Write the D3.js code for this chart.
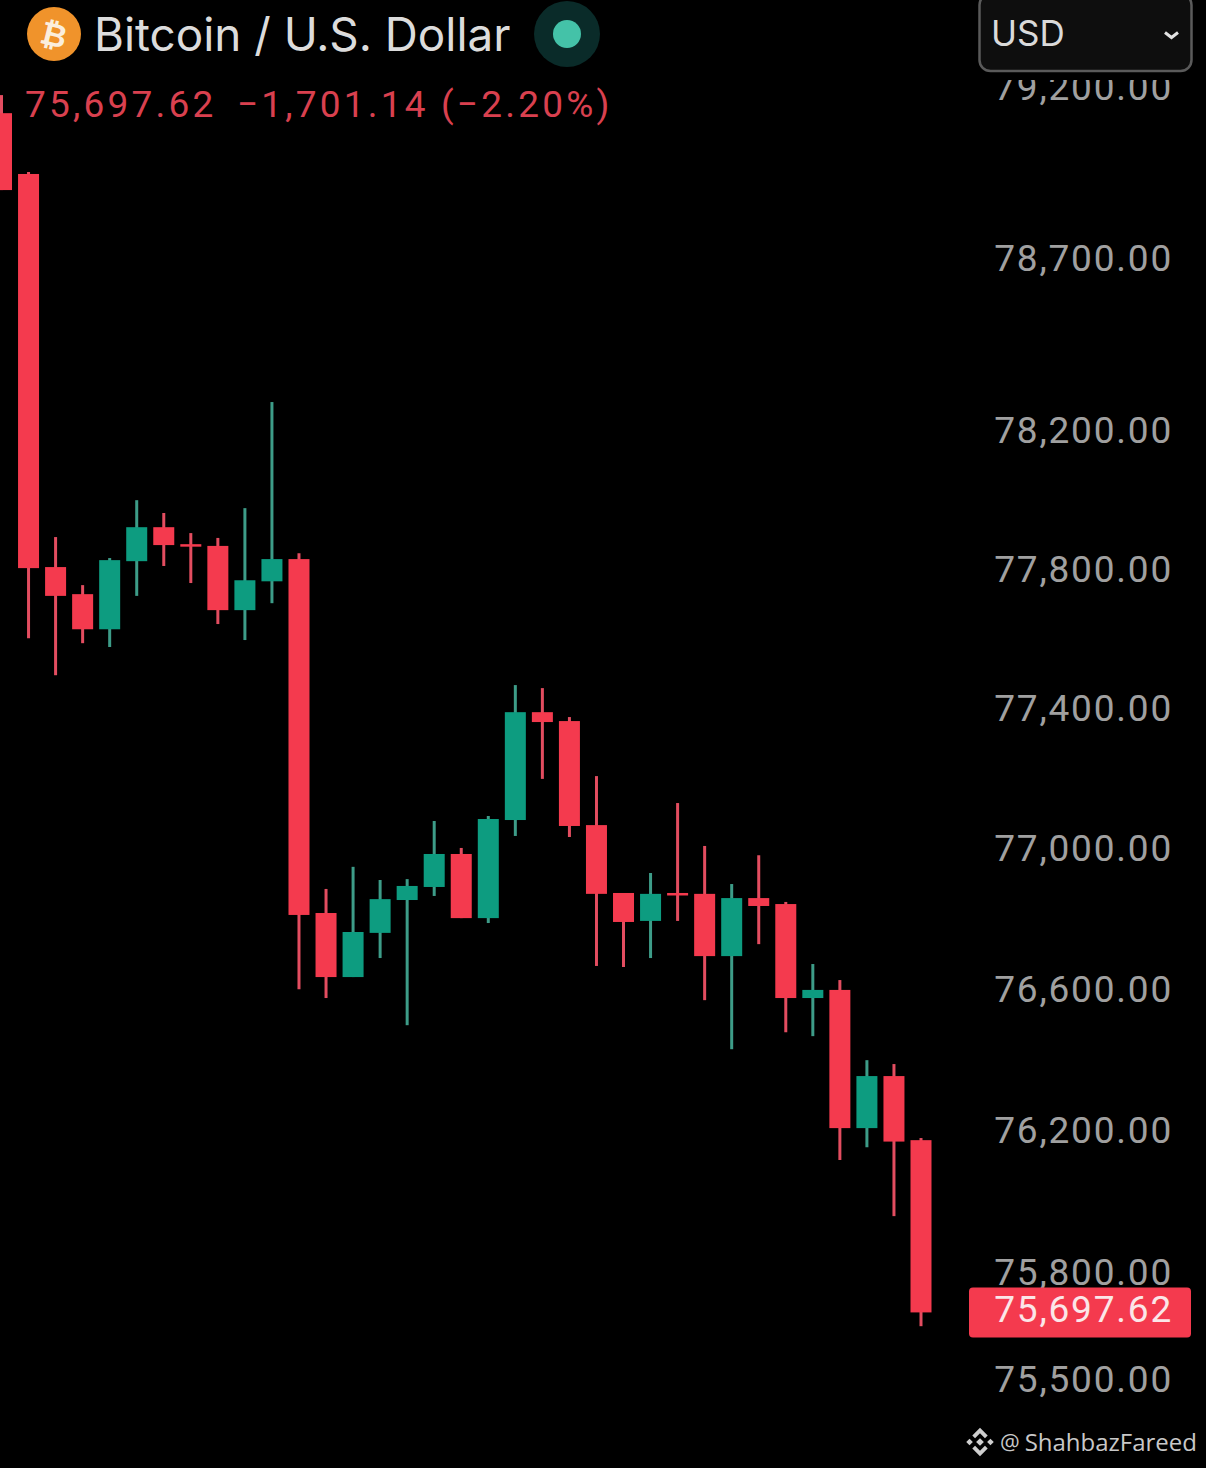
<!DOCTYPE html>
<html>
<head>
<meta charset="utf-8">
<title>Bitcoin / U.S. Dollar</title>
<script src="https://cdn.jsdelivr.net/npm/d3@7"></script>
<style>
  html, body { margin: 0; padding: 0; background: #000; }
  svg { display: block; }
  text { font-family: Inter, "Noto Sans", sans-serif; }
</style>
</head>
<body>
<script>
  // values
  const opens = [79135, 78957, 77816, 77738, 77637, 77833, 77931, 77882, 77877, 77692, 77775, 77839,
    76825.5, 76643.5, 76769, 76862.5, 76899.6, 76993.6, 76811, 77090.5, 77399, 77373.5, 77076, 76882.5,
    76803, 76882.5, 76880, 76703, 76868, 76851, 76584, 76607, 76216, 76363, 76182];
  const closes = [78910, 77813, 77733, 77637, 77836, 77931, 77879.4, 77876.6, 77692, 77778, 77839, 76820,
    76643.5, 76771.5, 76865, 76902.5, 76993.6, 76811, 77093.4, 77399, 77370.7, 77073.5, 76880, 76800,
    76880, 76877, 76703, 76868, 76845.5, 76584, 76607, 76216, 76363, 76178, 75697.62];
  const highs = [79188, 78963, 77902.5, 77764, 77842, 78009, 77972, 77914, 77900, 77986, 78293, 77856,
    76894, 76957, 76919.5, 76922, 77087.7, 77010.8, 77102, 77476.7, 77468, 77385, 77216, 76882.5,
    76939.5, 77139, 77016.5, 76908, 76990, 76857, 76680.5, 76635, 76408, 76397, 76188];
  const lows = [78910, 77611.5, 77505, 77597, 77586, 77733, 77819, 77770, 77652, 77606, 77712, 76609,
    76584, 76643.5, 76697.5, 76507, 76874, 76811, 76797, 77045, 77208, 77042, 76675, 76672,
    76697.5, 76803, 76578, 76439, 76737, 76487, 76476, 76126, 76162, 75968, 75659];
  const priceTicks = [79200, 78700, 78200, 77800, 77400, 77000, 76600, 76200, 75800, 75500];

  const title = 'Bitcoin / U.S. Dollar';
  const lastPrice = 75697.62;
  const changeText = '\u22121,701.14';
  const changePctText = '(\u22122.20%)';
  const currency = 'USD';
  const watermark = 'ShahbazFareed';

  const w = 1206;
  const h = 1468;
  const red = '#f43a4e';
  const green = '#0d9c80';
  const candleWidth = 21;
  const digitFont = 'Roboto, "Liberation Sans", sans-serif';

  const candles = opens.map((d, i) => ({ i: i, o: d, c: closes[i], h: highs[i], l: lows[i] }));

  const xScale = d3.scaleLinear().domain([0, candles.length - 1]).range([1.5, 921]);
  const yScale = d3.scaleLog().domain([75500, 79200]).range([1383, 91]);

  const svg = d3.select('body').append('svg')
    .attr('width', w)
    .attr('height', h)
    .style('background', '#000');

  // axis labels go under the header box, 79,200 gets cut by it
  svg.append('clipPath').attr('id', 'axis-clip')
    .append('rect').attr('x', 940).attr('y', 80).attr('width', 266).attr('height', h);

  const yAxis = d3.axisRight(yScale)
    .tickValues(priceTicks)
    .tickSize(0)
    .tickFormat(d3.format(',.2f'));

  const axisG = svg.append('g')
    .attr('id', 'y-axis')
    .attr('clip-path', 'url(#axis-clip)')
    .call(yAxis);
  axisG.select('.domain').remove();
  axisG.selectAll('text')
    .attr('x', 1173)
    .attr('dy', '0.32em')
    .attr('transform', 'translate(0,-3)')
    .attr('text-anchor', 'end')
    .attr('fill', '#a0a0a0')
    .style('font-family', digitFont)
    .style('font-size', '37px')
    .style('letter-spacing', '1.8px');

  // candles
  const candleG = svg.append('g').attr('id', 'candles')
    .selectAll('g')
    .data(candles)
    .enter()
    .append('g');

  candleG.append('line')
    .attr('x1', d => xScale(d.i))
    .attr('x2', d => xScale(d.i))
    .attr('y1', d => yScale(d.h))
    .attr('y2', d => yScale(d.l))
    .attr('stroke', d => d.c >= d.o ? '#3d9c88' : '#e34d60')
    .attr('stroke-width', 3);

  candleG.append('rect')
    .attr('x', d => xScale(d.i) - candleWidth / 2)
    .attr('y', d => yScale(Math.max(d.o, d.c)))
    .attr('width', candleWidth)
    .attr('height', d => Math.max(yScale(Math.min(d.o, d.c)) - yScale(Math.max(d.o, d.c)), 2.5))
    .attr('fill', d => d.c >= d.o ? green : red);

  // last price badge
  const badgeY = yScale(lastPrice);
  svg.append('rect')
    .attr('x', 969).attr('y', badgeY - 25)
    .attr('width', 222).attr('height', 50)
    .attr('rx', 4)
    .attr('fill', '#f43a4e');
  svg.append('text')
    .attr('x', 1173).attr('y', badgeY).attr('dy', '0.27em')
    .attr('text-anchor', 'end')
    .attr('fill', '#fbe6e8')
    .style('font-family', digitFont)
    .style('font-size', '37px')
    .style('letter-spacing', '1.8px')
    .text(d3.format(',.2f')(lastPrice));

  // title row
  svg.append('circle').attr('cx', 54).attr('cy', 34).attr('r', 27).attr('fill', '#f0932b');
  svg.append('text')
    .attr('x', 54).attr('y', 46)
    .attr('text-anchor', 'middle')
    .attr('transform', 'rotate(14 54 34)')
    .attr('fill', '#fbeedd')
    .style('font-family', '"DejaVu Sans", sans-serif')
    .style('font-weight', 700)
    .style('font-size', '32px')
    .text('\u20bf');
  svg.append('text')
    .attr('x', 94).attr('y', 51)
    .attr('fill', '#dcdcdc')
    .style('font-size', '45.8px')
    .text(title);
  svg.append('circle').attr('cx', 567).attr('cy', 34).attr('r', 33).attr('fill', '#0a2b29');
  svg.append('circle').attr('cx', 567).attr('cy', 34).attr('r', 14).attr('fill', '#44c2a8');

  // price row
  const headerRow = [
    { x: 25, t: d3.format(',.2f')(lastPrice) },
    { x: 237, t: changeText },
    { x: 441, t: changePctText }
  ];
  svg.selectAll('.header-value')
    .data(headerRow)
    .enter()
    .append('text')
    .attr('class', 'header-value')
    .attr('x', d => d.x)
    .attr('y', 117)
    .attr('fill', '#d9404f')
    .style('font-family', digitFont)
    .style('font-size', '37px')
    .style('letter-spacing', '3.2px')
    .text(d => d.t);

  // currency box
  svg.append('rect')
    .attr('x', 979.5).attr('y', -6)
    .attr('width', 212).attr('height', 77)
    .attr('rx', 11)
    .attr('fill', '#0e0e0e')
    .attr('stroke', '#5a5a5a')
    .attr('stroke-width', 2.5);
  svg.append('text')
    .attr('x', 991).attr('y', 46)
    .attr('fill', '#dadada')
    .style('font-size', '35px')
    .text(currency);
  svg.append('path')
    .attr('d', 'M1165,32.5l6.5,5l6.5,-5')
    .attr('fill', 'none')
    .attr('stroke', '#e2e2e2')
    .attr('stroke-width', 3);

  // watermark
  const mark = svg.append('g').attr('transform', 'translate(980,1442) scale(1.1)').attr('fill', '#cfcfcf');
  mark.append('path').attr('d', 'M0,-13L7,-6L4.5,-3.5L0,-8L-4.5,-3.5L-7,-6Z');
  mark.append('path').attr('d', 'M0,13L7,6L4.5,3.5L0,8L-4.5,3.5L-7,6Z');
  mark.append('path').attr('d', 'M0,-3.5L3.5,0L0,3.5L-3.5,0Z');
  mark.append('path').attr('d', 'M-9.5,-3L-6.5,0L-9.5,3L-12.5,0Z');
  mark.append('path').attr('d', 'M9.5,-3L12.5,0L9.5,3L6.5,0Z');
  svg.append('text')
    .attr('x', 1000).attr('y', 1450)
    .attr('fill', '#c8c8c8')
    .style('font-family', '"Open Sans", sans-serif')
    .style('font-size', '22px')
    .text('@');
  svg.append('text')
    .attr('x', 1197).attr('y', 1451)
    .attr('text-anchor', 'end')
    .attr('fill', '#c8c8c8')
    .style('font-family', '"Open Sans", sans-serif')
    .style('font-size', '24px')
    .text(watermark);
</script>
</body>
</html>
